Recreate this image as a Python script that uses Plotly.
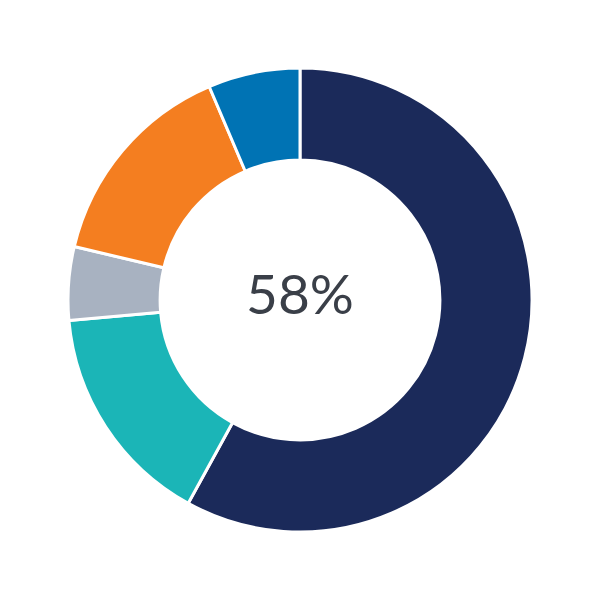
import plotly.graph_objects as go

# slices, clockwise from 12 o'clock
categories = ["Navy", "Teal", "Gray", "Orange", "Blue"]
shares = [58, 15.6, 5.1, 14.9, 6.4]
colors = ["#1b2a5a", "#1bb5b7", "#a8b2c1", "#f47e20", "#0073b4"]
center_label = "58%"

fig = go.Figure(go.Pie(
    labels=categories,
    values=shares,
    hole=0.603,
    sort=False,
    direction="clockwise",
    rotation=0,
    textinfo="none",
    hoverinfo="label+percent",
    marker=dict(colors=colors, line=dict(color="white", width=3)),
    showlegend=False,
))

fig.add_annotation(
    text=center_label, x=0.5, y=0.5, xref="paper", yref="paper",
    yshift=7,
    showarrow=False, font=dict(family="Lato", size=55, color="#3a3f48"),
)

# page body adds an 8px offset, so shift the margins to keep the donut centred
fig.update_layout(
    width=600, height=600,
    margin=dict(l=60, r=76, t=60, b=76),
    paper_bgcolor="white",
    plot_bgcolor="white",
)

fig.write_html("out.html")
